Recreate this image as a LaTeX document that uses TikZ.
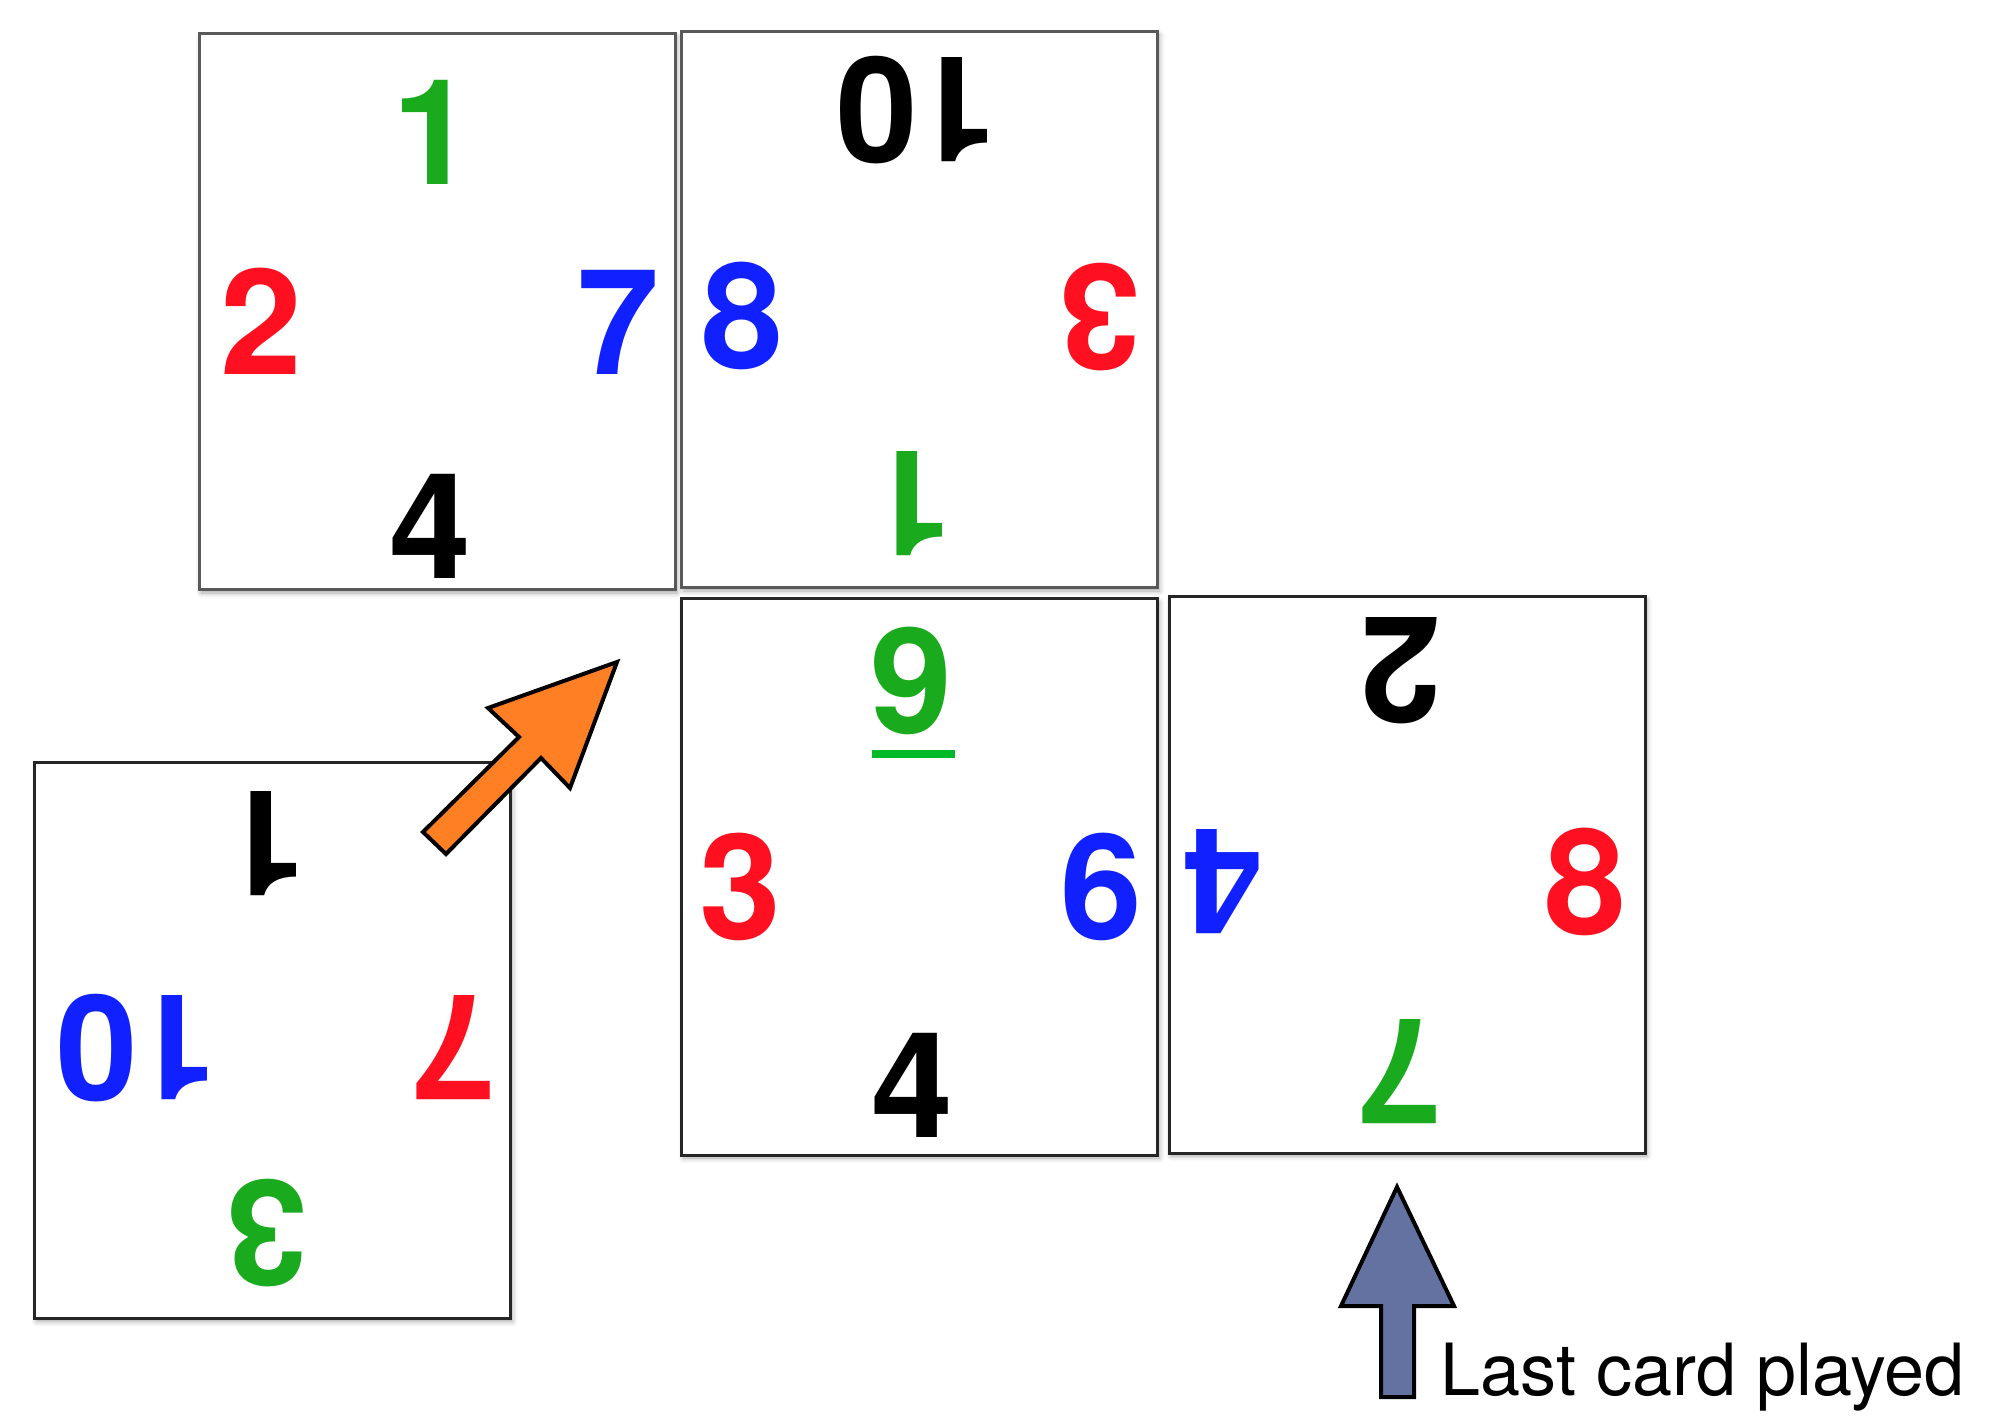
\documentclass[tikz,border=0pt]{standalone}
\usepackage{fontspec}
\setmainfont{TeX Gyre Heros}
\usetikzlibrary{shadows.blur}
\definecolor{cgreen}{RGB}{26,170,30}
\definecolor{cred}{RGB}{255,16,32}
\definecolor{cblue}{RGB}{16,32,255}
\definecolor{ulgreen}{RGB}{0,185,40}
\definecolor{aorange}{RGB}{255,127,36}
\definecolor{ablue}{RGB}{99,114,160}
\tikzset{
  card/.style={draw=#1, line width=1.5pt, fill=white, minimum width=238pt, minimum height=278pt, inner sep=0pt,
    blur shadow={shadow xshift=1pt, shadow yshift=-1.5pt, shadow blur radius=2.5pt, shadow opacity=35}},
  dig/.style={text=#1, font=\fontsize{73.5}{80}\selectfont\bfseries, inner sep=0pt},
  flip/.style={rotate=180},
  blockarrow/.style={draw=black, line width=2pt, line join=miter},
  caption/.style={font=\fontsize{36}{40}\selectfont, inner sep=0pt, anchor=base west},
}
\begin{document}
\begin{tikzpicture}[x=0.5pt, y=-0.5pt]
\useasboundingbox (0,0) rectangle (1992,1422);
% bottom-left card
\node[card=black!85] (cardC) at (272.5,1040.5) {};
\node[dig=black, flip] (c1) at (266,844) {1};
\node[dig=cblue, flip] (c10) at (136,1048) {10};
\node[dig=cred, flip] (c7) at (454,1048) {7};
\node[dig=cgreen, flip] (c3) at (267,1233) {3};
% orange arrow
\coordinate (oTip) at (617,662);
\draw[blockarrow, fill=aorange] (oTip) -- (570,788) -- (541,758) -- (446,854) -- (423,832) -- (519,737) -- (488,708) -- cycle;
% top-left card
\node[card=black!65] (cardA) at (437,312) {};
\node[dig=cgreen] (a1) at (433,132) {1};
\node[dig=cred] (a2) at (261,321) {2};
\node[dig=cblue] (a7) at (618,322) {7};
\node[dig=black] (a4) at (430,526) {4};
% top-middle card
\node[card=black!65] (cardB) at (919.5,310) {};
\node[dig=black, flip] (b10) at (916,110) {10};
\node[dig=cblue] (b8) at (742,316) {8};
\node[dig=cred, flip] (b3) at (1100,317) {3};
\node[dig=cgreen, flip] (b1) at (912,504) {1};
% bottom-middle card
\node[card=black!85] (cardD) at (919.5,877) {};
\node[dig=cgreen] (d9) at (911,681) {9};
\fill[ulgreen] (872,750) rectangle (955,758);
\node[dig=cred] (d3) at (740,887) {3};
\node[dig=cblue] (d6) at (1101,887) {6};
\node[dig=black] (d4) at (912,1085) {4};
% last card
\node[card=black!85] (cardE) at (1407,875) {};
\node[dig=black, flip] (e2) at (1401,671) {2};
\node[dig=cblue, flip] (e4) at (1222,882) {4};
\node[dig=cred] (e8) at (1585,882) {8};
\node[dig=cgreen, flip] (e7) at (1400,1072) {7};
% blue arrow
\coordinate (bTip) at (1397,1187);
\draw[blockarrow, fill=ablue] (bTip) -- (1454,1306) -- (1414,1306) -- (1414,1397) -- (1381,1397) -- (1381,1306) -- (1341,1306) -- cycle;
\node[caption] (lbl) at (1440,1395) {Last card played};
\end{tikzpicture}
\end{document}
